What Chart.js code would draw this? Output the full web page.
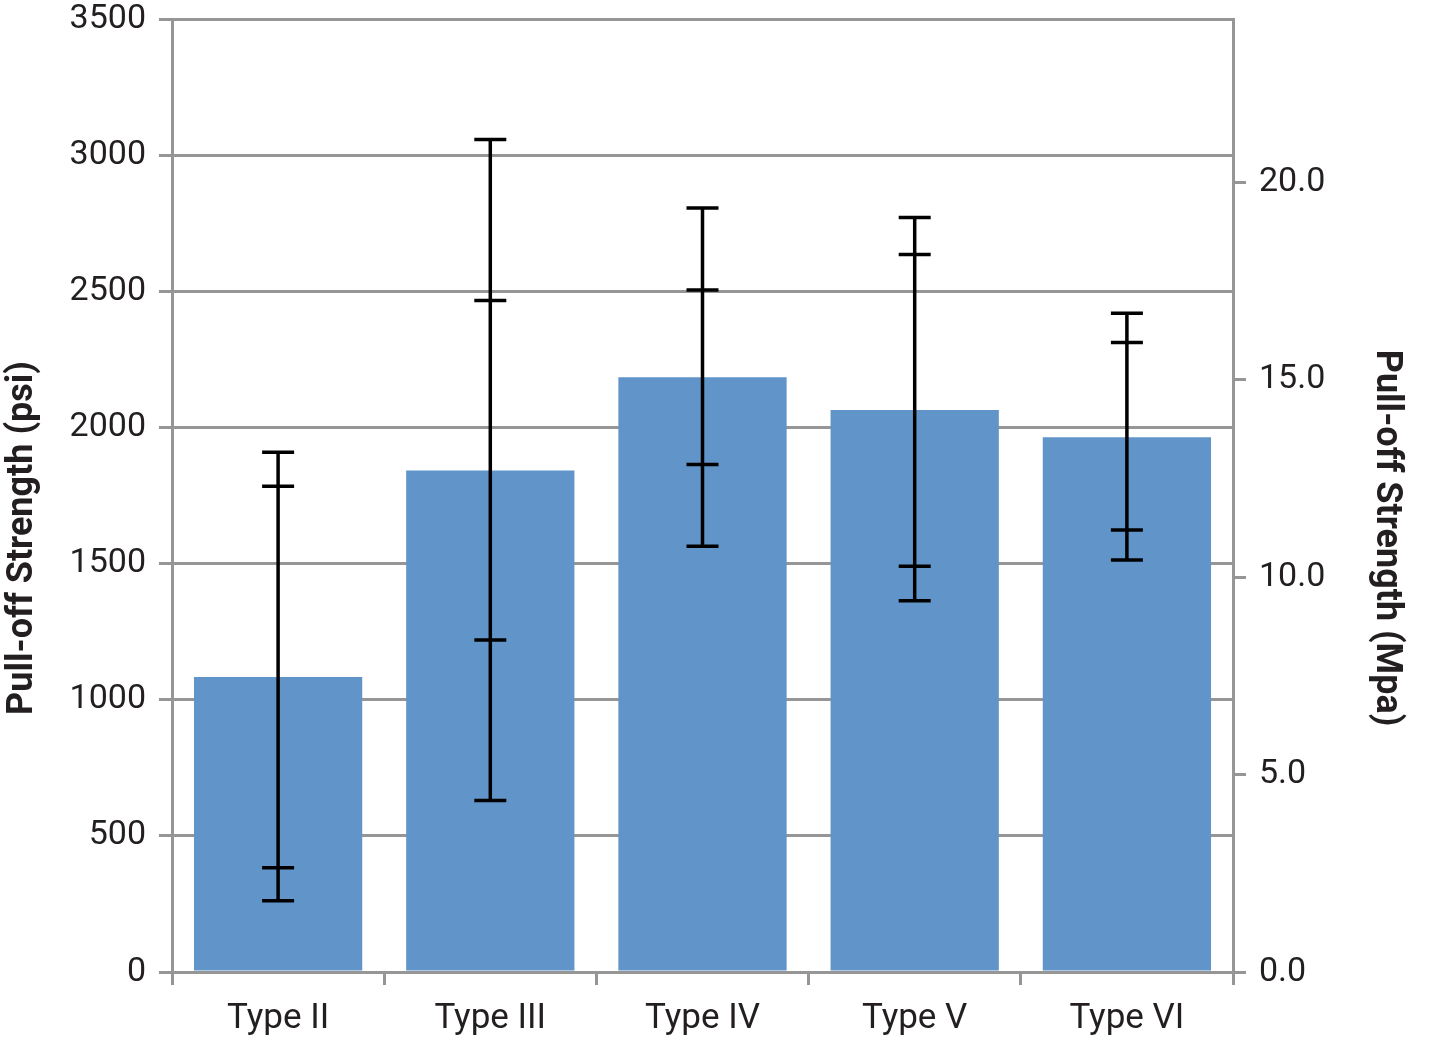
<!DOCTYPE html>
<html>
<head>
<meta charset="utf-8">
<title>Pull-off Strength</title>
<script src="https://cdn.jsdelivr.net/npm/chart.js@4.4.1/dist/chart.umd.min.js"></script>
<style>
  html, body { margin: 0; padding: 0; background: #fff; }
  canvas { display: block; }
</style>
</head>
<body>
<canvas id="pulloffChart" width="1431" height="1045"></canvas>
<script>
const categories = ['Type II', 'Type III', 'Type IV', 'Type V', 'Type VI'];

// mean pull-off strength (psi)
const meanPsi = [1083, 1842, 2184, 2064, 1964];

// wide error bars (psi)
const outerLow = [262, 630, 1564, 1363, 1513];
const outerHigh = [1909, 3057, 2806, 2771, 2419];

// narrow error bars (psi)
const innerLow = [383, 1219, 1864, 1490, 1623];
const innerHigh = [1784, 2466, 2505, 2635, 2312];

// tick labels
const psiTicks = [0, 500, 1000, 1500, 2000, 2500, 3000, 3500];
const mpaTicks = [0, 5, 10, 15, 20];

const leftTitle = 'Pull-off Strength (psi)';
const rightTitle = 'Pull-off Strength (Mpa)';

const PSI_PER_MPA = 145.038;
const gridColor = '#969696';
const textColor = '#231f20';
const fontFamily = 'Roboto, "Noto Sans", sans-serif';

// draws both error bars on each bar
const errorBarPlugin = {
    id: 'errorBars',
    afterDatasetsDraw(chart) {
        const ctx = chart.ctx;
        const y = chart.scales.y;
        const meta = chart.getDatasetMeta(0);
        const capW = 16;
        ctx.save();
        ctx.strokeStyle = '#000000';
        ctx.lineWidth = 3.5;
        meta.data.forEach((bar, i) => {
            const x = bar.x;
            ctx.beginPath();
            ctx.moveTo(x, y.getPixelForValue(outerLow[i]));
            ctx.lineTo(x, y.getPixelForValue(outerHigh[i]));
            [outerLow[i], outerHigh[i], innerLow[i], innerHigh[i]].forEach(v => {
                const py = y.getPixelForValue(v);
                ctx.moveTo(x - capW, py);
                ctx.lineTo(x + capW, py);
            });
            ctx.stroke();
        });
        ctx.restore();
    }
};

// axis titles sit a bit below the middle of the plot, like the original
const axisTitlePlugin = {
    id: 'axisTitles',
    afterDraw(chart) {
        const ctx = chart.ctx;
        const area = chart.chartArea;
        const cy = area.bottom - 434;
        ctx.save();
        ctx.fillStyle = textColor;
        ctx.font = 'bold 36px ' + fontFamily;
        ctx.textAlign = 'center';
        ctx.textBaseline = 'middle';

        ctx.translate(23, cy);
        ctx.rotate(-Math.PI / 2);
        ctx.fillText(leftTitle, 0, 0);
        ctx.setTransform(1, 0, 0, 1, 0, 0);

        ctx.translate(chart.width - 45, cy);
        ctx.rotate(Math.PI / 2);
        ctx.fillText(rightTitle, 0, 0);
        ctx.restore();
    }
};

// fix the plot box: top gridline at 19px, bottom axis at 972px
const fitVertical = width => s => {
    s.width = width;
    s.paddingTop = 19;
    s.paddingBottom = 0;
};

const data = {
    labels: categories,
    datasets: [{
        label: 'Pull-off Strength (psi)',
        data: meanPsi,
        backgroundColor: '#6195c9',
        borderWidth: 0,
        barPercentage: 0.793,
        categoryPercentage: 1.0,
        yAxisID: 'y'
    }]
};

const config = {
    type: 'bar',
    data,
    options: {
        responsive: false,
        animation: false,
        layout: { padding: 0 },
        plugins: {
            legend: { display: false },
            tooltip: { enabled: false }
        },
        scales: {
            x: {
                afterFit: s => { s.height = 73; },
                grid: {
                    offset: true,
                    drawOnChartArea: false,
                    color: gridColor,
                    lineWidth: 3,
                    tickLength: 13
                },
                border: { color: gridColor, width: 3 },
                ticks: {
                    color: textColor,
                    font: { family: fontFamily, size: 35 },
                    padding: 13
                }
            },
            y: {
                position: 'left',
                min: 0,
                max: 3500,
                afterFit: fitVertical(172),
                afterBuildTicks: s => { s.ticks = psiTicks.map(v => ({ value: v })); },
                grid: {
                    color: gridColor,
                    lineWidth: 3,
                    tickLength: 13
                },
                border: { color: gridColor, width: 3 },
                ticks: {
                    color: textColor,
                    font: { family: fontFamily, size: 34 },
                    padding: 13,
                    callback: v => String(v)
                }
            },
            y2: {
                position: 'right',
                min: 0,
                max: 3500 / PSI_PER_MPA,
                afterFit: fitVertical(198),
                afterBuildTicks: s => { s.ticks = mpaTicks.map(v => ({ value: v })); },
                grid: {
                    drawOnChartArea: false,
                    color: gridColor,
                    lineWidth: 3,
                    tickLength: 13
                },
                border: { color: gridColor, width: 3 },
                ticks: {
                    color: textColor,
                    font: { family: fontFamily, size: 34 },
                    padding: 13,
                    callback: v => Number(v).toFixed(1)
                }
            }
        }
    },
    plugins: [errorBarPlugin, axisTitlePlugin]
};

const pulloffChart = new Chart(document.getElementById('pulloffChart'), config);
</script>
</body>
</html>
